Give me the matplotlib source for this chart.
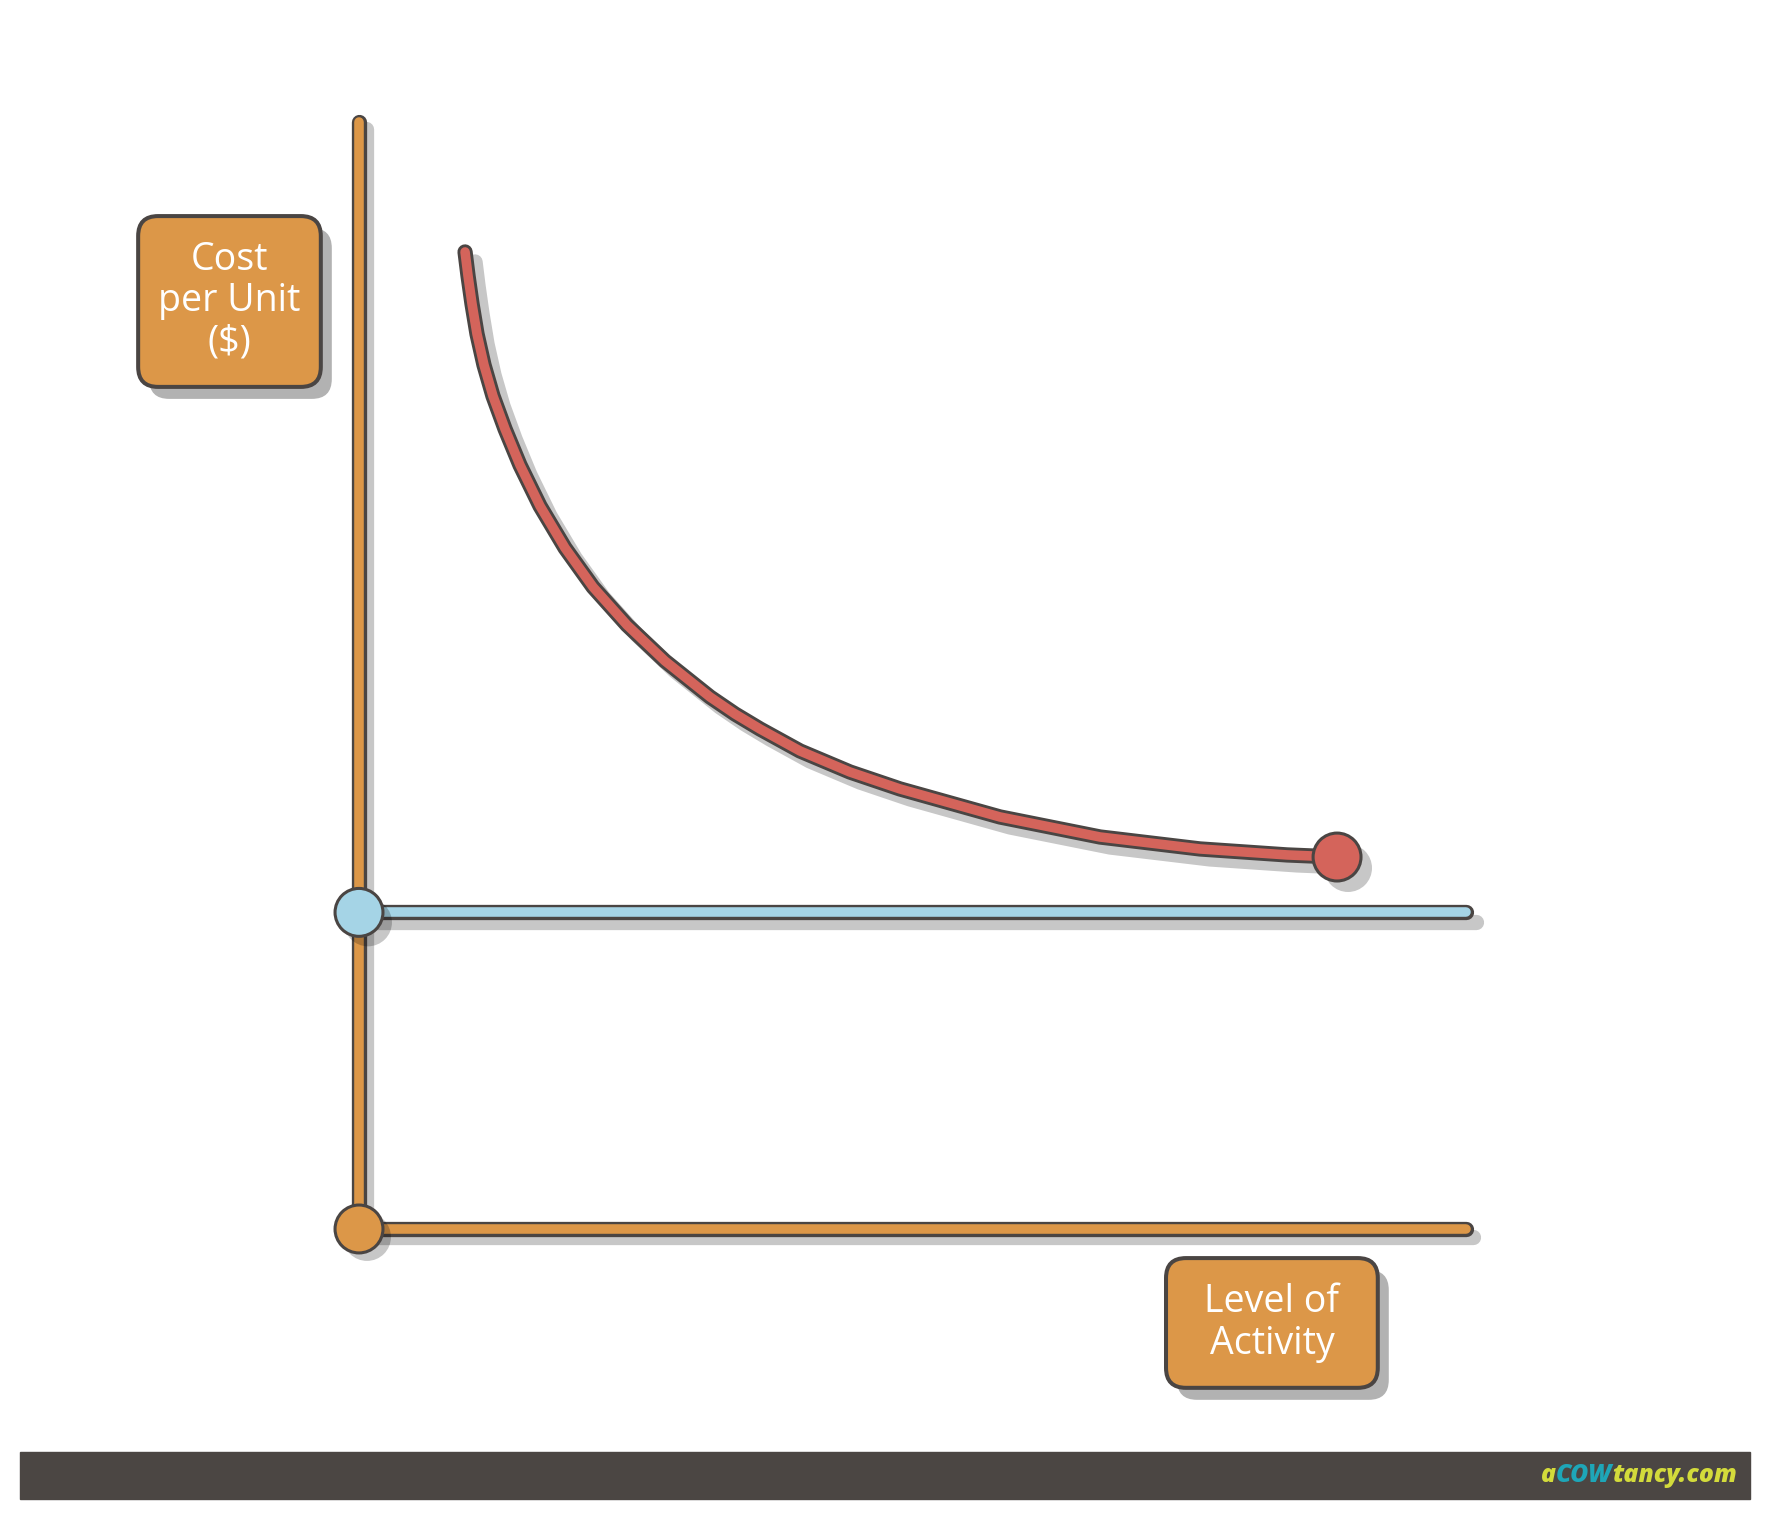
import matplotlib
matplotlib.use('Agg')
import matplotlib.pyplot as plt
import matplotlib.patheffects as pe
from matplotlib.patches import FancyBboxPatch, Rectangle

# values (level of activity -> cost per unit)
activity = [9.58, 9.85, 10.21, 10.66, 11.29, 12.10, 13.19, 14.54, 16.35, 18.61,
            21.14, 24.21, 27.64, 31.71, 33.97, 36.22, 39.84, 44.35, 48.87, 57.90,
            66.94, 75.97, 83.83, 88.35]
cost_per_unit = [88.26, 86.09, 83.56, 80.85, 78.05, 75.25, 72.27, 69.01, 65.31, 61.52,
                 57.99, 54.56, 51.31, 48.06, 46.52, 45.17, 43.18, 41.28, 39.75, 37.22,
                 35.41, 34.33, 33.79, 33.60]
axis_max = 100
floor_level = 28.6

y_label = 'Cost\nper Unit\n($)'
x_label = 'Level of\nActivity'
brand = [('a', '#d3db3b'), ('COW', '#1ea6b8'), ('tancy.com', '#d3db3b')]

ORANGE = '#dc9748'
RED = '#d4645b'
BLUE = '#a5d4e6'
DARK = '#4a4543'
FONT = ['Open Sans', 'DejaVu Sans']

W, H, DPI = 1771, 1521, 100
LW = 11.0          # full width of the tubes (~15 px)
INNER = 6.9        # coloured core


def px(dx, dy):
    # pixel offset -> points, y flipped
    return (dx * 72 / DPI, -dy * 72 / DPI)


def tube(color, shadow):
    return dict(color=color, lw=INNER, solid_capstyle='round', solid_joinstyle='round',
                path_effects=[pe.SimpleLineShadow(offset=px(*shadow), shadow_color='black',
                                                  alpha=0.22, linewidth=LW),
                              pe.Stroke(linewidth=LW, foreground=DARK),
                              pe.Normal()])


def dot(color, shadow):
    return dict(marker='o', ms=34.5, mfc=color, mec=DARK, mew=2.2, ls='none',
                path_effects=[pe.SimplePatchShadow(offset=px(*shadow), shadow_rgbFace='black',
                                                   alpha=0.22),
                              pe.Normal()])


fig = plt.figure(figsize=(W / DPI, H / DPI), dpi=DPI)
ax = fig.add_axes([0, 0, 1, 1])
ax.set_xlim(-32.43, 127.55)
ax.set_ylim(-26.38, 111.02)
ax.axis('off')

# axes drawn as tubes
ax.plot([0, 0], [0, axis_max], zorder=2, **tube(ORANGE, (7, 7)))
ax.plot([0, axis_max], [floor_level, floor_level], zorder=3, **tube(BLUE, (10, 10)))
ax.plot([0], [floor_level], zorder=4, **dot(BLUE, (9, 10)))
ax.plot([0, axis_max], [0, 0], zorder=3, **tube(ORANGE, (7, 8)))
ax.plot([0], [0], zorder=4, **dot(ORANGE, (8, 8)))

# cost curve
ax.plot(activity, cost_per_unit, zorder=5, **tube(RED, (10, 10)))
ax.plot(activity[-1:], cost_per_unit[-1:], zorder=6, **dot(RED, (11, 11)))

# label boxes
for (x0, y0, w, h), label in [((-19.95, 76.07, 16.5, 15.43), y_label),
                              ((72.9, -14.35, 19.13, 11.72), x_label)]:
    box = FancyBboxPatch((x0, y0), w, h, boxstyle='round,pad=0,rounding_size=1.8',
                         fc=ORANGE, ec=DARK, lw=2.9, zorder=7,
                         path_effects=[pe.SimplePatchShadow(offset=px(11, 12),
                                                            shadow_rgbFace='black',
                                                            alpha=0.3),
                                       pe.Normal()])
    ax.add_patch(box)
    ax.text(x0 + w / 2, y0 + h / 2, label, ha='center', va='center',
            multialignment='center', fontsize=27, color='white', family=FONT,
            linespacing=1.12, zorder=8)

# footer bar with brand
ax.add_patch(Rectangle((20 / W, 22 / H), 1730 / W, 47 / H, transform=fig.transFigure,
                       color='#4b4643', zorder=9, clip_on=False))
prev = None
for piece, col in brand:
    kw = dict(fontsize=17.8, color=col, family=FONT, fontweight='heavy', style='italic',
              zorder=10)
    if prev is None:
        prev = ax.text(1541 / W, (H - 1482) / H, piece, ha='left', va='baseline',
                       transform=fig.transFigure, clip_on=False, **kw)
    else:
        prev = ax.annotate(piece, xy=(1, 0), xycoords=prev, ha='left', va='bottom',
                           annotation_clip=False, **kw)

fig.savefig('out.png', dpi=DPI)
